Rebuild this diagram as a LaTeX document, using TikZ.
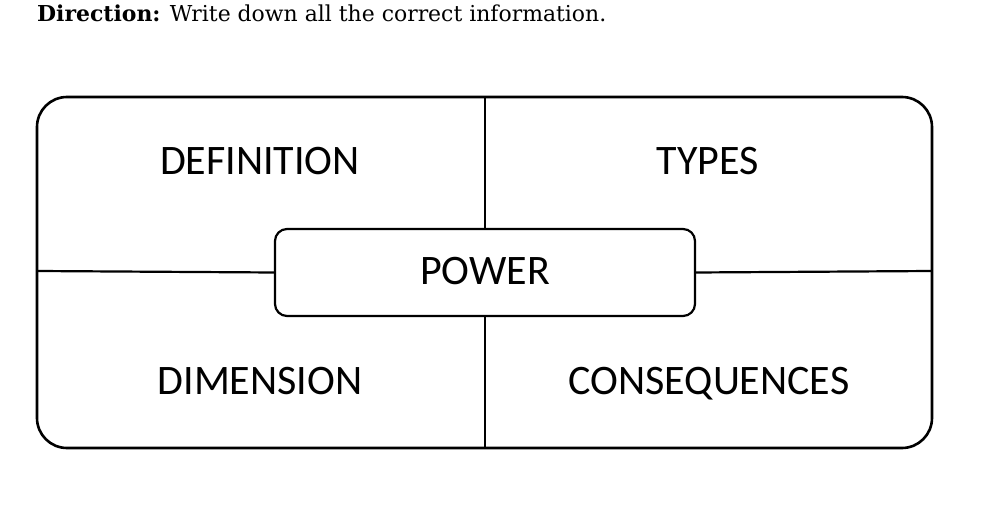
\documentclass[tikz,border=0pt]{standalone}
\usepackage{fontspec}
\setmainfont{Carlito}
\newfontfamily\headfont{DejaVu Serif}
\begin{document}
\begin{tikzpicture}[x=1pt,y=-1pt,
  frame/.style={draw=black,line width=2.6pt},
  lbl/.style={font=\fontsize{42}{46}\selectfont,inner sep=0pt,anchor=base},
  hline/.style={draw=black,line width=2.2pt}]
\useasboundingbox (0,0) rectangle (1004,526);
\node[anchor=west,inner sep=0pt] (head) at (37,13) {\resizebox{569pt}{!}{\headfont\fontsize{20}{24}\selectfont\textbf{Direction:} Write down all the correct information.}};
\draw[frame,rounded corners=30pt] (37,97) rectangle (932,448);
\coordinate (top) at (485,97);
\coordinate (bot) at (485,448);
\coordinate (lft) at (37,271);
\coordinate (rgt) at (932,271);
\node[draw=black,line width=2.2pt,rounded corners=12pt,minimum width=420pt,minimum height=87pt,inner sep=0pt] (power) at (485,272.5) {};
\node[lbl] (powert) at (485,285) {POWER};
\draw[hline] (top) -- (power.north);
\draw[hline] (power.south) -- (bot);
\draw[hline] (lft) -- (power.west);
\draw[hline] (power.east) -- (rgt);
\node[lbl] (def) at (260,175) {DEFINITION};
\node[lbl] (typ) at (708,175) {TYPES};
\node[lbl] (dim) at (260,395) {DIMENSION};
\node[lbl] (con) at (709,395) {CONSEQUENCES};
\end{tikzpicture}
\end{document}
